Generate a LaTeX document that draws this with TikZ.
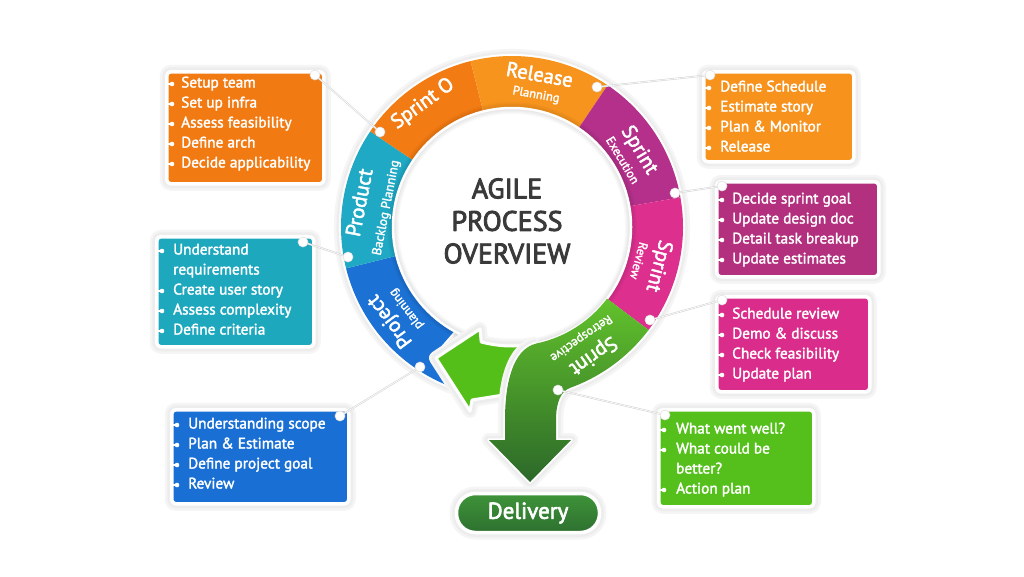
\documentclass[tikz,border=0pt]{standalone}
\usepackage{fontspec}
\setmainfont{PT Sans}
\newcommand\wgt[2]{\special{pdf:literal direct 2 Tr #1 w}#2\special{pdf:literal direct 0 Tr}}
\usetikzlibrary{calc}
\definecolor{cProj}{HTML}{1C72D4}
\definecolor{cProd}{HTML}{1FA9C4}
\definecolor{cSprO}{HTML}{F27B13}
\definecolor{cRel}{HTML}{F7941E}
\definecolor{cExe}{HTML}{B4308A}
\definecolor{cRev}{HTML}{DC2F8E}
\definecolor{cRetT}{HTML}{62C22B}
\definecolor{cRetM}{HTML}{3F9434}
\definecolor{cRetB}{HTML}{2C682A}
\definecolor{cLight}{HTML}{55BF1A}
\definecolor{cDel}{HTML}{3E9439}
\definecolor{cDelB}{HTML}{2E7030}
\definecolor{bOrL}{HTML}{F27A12}
\definecolor{bOrR}{HTML}{F7931D}
\definecolor{bPur}{HTML}{B2307E}
\definecolor{bPink}{HTML}{DA2C8A}
\definecolor{bGreen}{HTML}{55C01C}
\definecolor{bTeal}{HTML}{1EA8BE}
\definecolor{bBlue}{HTML}{1A6FD5}
\definecolor{cTitle}{HTML}{3A3A3A}
\def\Ri{119}
\def\Ro{171}
\newcommand\ringsec[2]{($(C)+(#1:\Ro)$) arc[start angle=#1, end angle=#2, radius=\Ro] -- ($(C)+(#2:\Ri)$) arc[start angle=#2, end angle=#1, radius=\Ri] -- cycle}
\newcommand\blines[5]{\foreach \t/\b [count=\i] in {#5} {\node[item] (#1t\i) at (#3, #4+20*\i-20) {\wgt{0.3}{\t}}; \ifnum\b=1 \draw[tick] (#2, #4+20*\i-20) -- ++(7,0); \fill[white] (#2+7, #4+20*\i-20) circle[radius=2.3]; \fi}}
\begin{document}
\begin{tikzpicture}[x=1pt,y=-1pt, line join=round,
 glow/.style={preaction={draw=black!4,line width=14pt}, preaction={draw=black!7,line width=9pt}},
 back/.style={glow, draw=white, fill=white, line width=4pt},
 box/.style={rectangle, rounded corners=4pt, draw=white, line width=3.5pt, inner sep=0pt, anchor=north west, glow},
 item/.style={anchor=west, text=white, font=\fontsize{15.3}{17}\selectfont, inner sep=0pt, text height=10pt, text depth=3pt},
 tick/.style={draw=white, line width=1.3pt},
 cdot/.style={circle, fill=white, minimum size=10pt, inner sep=0pt, draw=black!12, line width=0.6pt},
 conn/.style={draw=black!16, line width=1.8pt, postaction={draw=white, line width=0.6pt}},
 seglab/.style={text=white, align=center, inner sep=0pt},
 ]
\useasboundingbox (0,0) rectangle (1024,576);
\fill[white] (0,0) rectangle (1024,576);
\coordinate (C) at (512,227);

% ---------- boxes ----------
\node[box, fill=bOrL, minimum width=157pt, minimum height=112pt] (b1) at (165,70) {};
\blines{b1}{165}{181}{84}{Setup team/1, Set up infra/1, Assess feasibility/1, Define arch/1, Decide applicability/1}
\node[box, fill=bOrR, minimum width=150pt, minimum height=90pt] (b2) at (702,70) {};
\blines{b2}{702}{720}{88}{Define Schedule/1, Estimate story/1, Plan \& Monitor/1, Release/1}
\node[box, fill=bPur, minimum width=162pt, minimum height=95pt] (b3) at (715,180) {};
\blines{b3}{715}{732}{200}{Decide sprint goal/1, Update design doc/1, Detail task breakup/1, Update estimates/1}
\node[box, fill=bPink, minimum width=153pt, minimum height=95pt] (b4) at (715,295) {};
\blines{b4}{715}{732}{315}{Schedule review/1, Demo \& discuss/1, Check feasibility/1, Update plan/1}
\node[box, fill=bGreen, minimum width=155pt, minimum height=97pt] (b5) at (657,408) {};
\blines{b5}{657}{676}{430}{What went well?/1, What could be/1, better?/0, Action plan/1}
\node[box, fill=bTeal, minimum width=157pt, minimum height=110pt] (b6) at (155,235) {};
\blines{b6}{155}{173}{251}{Understand/1, requirements/0, Create user story/1, Assess complexity/1, Define criteria/1}
\node[box, fill=bBlue, minimum width=177pt, minimum height=94pt] (b7) at (170,408) {};
\blines{b7}{170}{188}{425}{Understanding scope/1, Plan \& Estimate/1, Define project goal/1, Review/1}

% ---------- ring backing ----------
\path[back] ($(C)+(111:\Ro)$) arc[start angle=111, end angle=430, radius=\Ro]
  .. controls (561,391) and (556,402) .. (556,420) -- (556,440) -- (571,440) -- (530,482) -- (489,440) -- (505,440) -- (505,420)
  .. controls (505,385) and (512,349) .. ($(C)+(78:\Ri)$) arc[start angle=438, end angle=119, radius=\Ri] -- (431,358) -- cycle;

% ---------- segments ----------
\fill[cProj] ($(C)+(166:\Ro)$) arc[start angle=166, end angle=111, radius=\Ro] -- (431,358) -- ($(C)+(119:\Ri)$) arc[start angle=119, end angle=166, radius=\Ri] -- cycle;
\fill[cProd] \ringsec{166}{214};
\fill[cSprO] \ringsec{214}{256};
\fill[cRel] \ringsec{256}{304};
\fill[cExe] \ringsec{304}{350};
\fill[cRev] \ringsec{350}{397};

% ---------- inner disc ----------
\fill[white] (C) circle[radius=\Ri];
\foreach \w in {2,4,...,12} \draw[black, opacity=0.02, line width=\w pt] (C) circle[radius=\Ri];
\draw[white, line width=2.5pt] (C) circle[radius=\Ri];

% ---------- light green arrow ----------
\path[back, fill=cLight, line width=3pt] ($(C)+(105:\Ri)$) arc[start angle=105, end angle=80, radius=\Ri] -- (522,392) -- (472,400) -- (470,411) -- (436,358) -- (480,329) -- cycle;

% ---------- dark green arrow ----------
\path[glow, draw=white, line width=3.5pt] ($(C)+(70:\Ro)$)
  .. controls (561,391) and (556,402) .. (556,420) -- (556,440) -- (571,440) -- (530,482) -- (489,440) -- (505,440) -- (505,420)
  .. controls (505,385) and (512,349) .. ($(C)+(78:\Ri)$);
\path[top color=cRetT, middle color=cRetM, bottom color=cRetB] ($(C)+(37:\Ro)$) arc[start angle=37, end angle=70, radius=\Ro]
  .. controls (561,391) and (556,402) .. (556,420) -- (556,440) -- (571,440) -- (530,482) -- (489,440) -- (505,440) -- (505,420)
  .. controls (505,385) and (512,349) .. ($(C)+(78:\Ri)$) arc[start angle=78, end angle=37, radius=\Ri] -- cycle;

% ---------- labels ----------
\node[text=cTitle, align=center, font=\fontsize{28}{32.5}\selectfont] (title) at (507,221) {\wgt{0.9}{AGILE}\\\wgt{0.9}{PROCESS}\\\wgt{0.9}{OVERVIEW}};
\node[seglab, rotate=36, font=\fontsize{20.5}{17}\selectfont] (lSO) at (423,104) {\wgt{0.5}{Sprint O}};
\node[seglab, rotate=-10, font=\fontsize{20.5}{17}\selectfont] (lRel) at (538,84) {\wgt{0.5}{Release}\\\fontsize{12.5}{14}\selectfont\wgt{0.25}{Planning}};
\node[seglab, rotate=-59, font=\fontsize{20.5}{18}\selectfont] (lExe) at (633,154) {\wgt{0.5}{Sprint}\\\fontsize{12.5}{14}\selectfont\wgt{0.25}{Execution}};
\node[seglab, rotate=-105, font=\fontsize{20.5}{19}\selectfont] (lRev) at (651,264) {\wgt{0.5}{Sprint}\\\fontsize{12.5}{14}\selectfont\wgt{0.25}{Review}};
\node[seglab, rotate=-145, font=\fontsize{20.5}{19}\selectfont] (lRet) at (588,348) {\wgt{0.5}{Sprint}\\\fontsize{12.5}{14}\selectfont\wgt{0.25}{Retrospective}};
\node[seglab, rotate=127, font=\fontsize{20.5}{18}\selectfont] (lProj) at (397,316) {\wgt{0.5}{Project}\\\fontsize{12.5}{14}\selectfont\wgt{0.25}{planning}};
\node[seglab, rotate=79, font=\fontsize{21}{24}\selectfont] (lProd) at (372,205) {\wgt{0.5}{Product}\\\fontsize{13}{14}\selectfont\wgt{0.25}{Backlog Planning}};

% ---------- delivery ----------
\node[rounded corners=19pt, draw=white, line width=3.5pt, glow, top color=cDel, bottom color=cDelB, minimum width=143pt, minimum height=39pt, text=white, font=\fontsize{23}{23}\selectfont] (del) at (528,513) {\wgt{0.6}{Delivery}};

% ---------- connectors ----------
\coordinate (r1) at (380,132); \coordinate (q1) at (315,75);
\coordinate (r2) at (597,87);  \coordinate (q2) at (710,75);
\coordinate (r3) at (675,193); \coordinate (q3) at (722,186);
\coordinate (r4) at (650,320); \coordinate (q4) at (722,300);
\coordinate (r5) at (558,390); \coordinate (q5) at (665,415);
\coordinate (r6) at (348,257); \coordinate (q6) at (303,242);
\coordinate (r7) at (420,367); \coordinate (q7) at (340,416);
\foreach \k in {1,...,7} \draw[conn] (r\k) -- (q\k);
\foreach \k in {1,...,7} {\node[cdot] (rd\k) at (r\k) {}; \node[cdot] (bd\k) at (q\k) {};}
\end{tikzpicture}
\end{document}
